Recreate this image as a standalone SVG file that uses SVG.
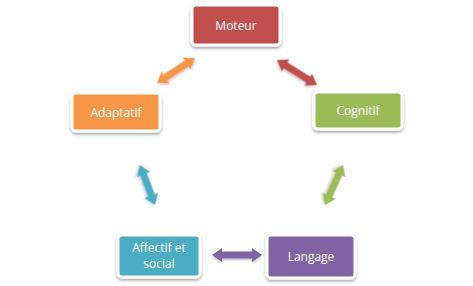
<svg xmlns="http://www.w3.org/2000/svg" width="473" height="286" viewBox="0 0 473 286">
<style>
.box{stroke:#ffffff;stroke-width:3;filter:url(#sh)}
.lbl{font-family:"Open Sans","Liberation Sans",sans-serif;font-size:12px;fill:#ffffff;text-anchor:middle}
.arr{filter:url(#ash)}
</style>
<defs>
<filter id="sh" x="-20%" y="-30%" width="140%" height="170%">
<feDropShadow dx="0" dy="2" stdDeviation="1.6" flood-color="#000" flood-opacity="0.35"/>
</filter>
<filter id="ash" x="-30%" y="-30%" width="160%" height="160%">
<feDropShadow dx="0" dy="1.5" stdDeviation="1.2" flood-color="#000" flood-opacity="0.25"/>
</filter>
</defs>
<rect width="473" height="286" fill="#ffffff"/>
<g id="connectors">
<polygon class="arr" fill="#f79646" transform="translate(176,70.5) rotate(-33.3)" points="-22.7,0 -12.7,-7 -12.7,-3.5 12.7,-3.5 12.7,-7 22.7,0 12.7,7 12.7,3.5 -12.7,3.5 -12.7,7"/>
<polygon class="arr" fill="#c0504d" transform="translate(297,72.5) rotate(32)" points="-23.5,0 -13.5,-7 -13.5,-3.5 13.5,-3.5 13.5,-7 23.5,0 13.5,7 13.5,3.5 -13.5,3.5 -13.5,7"/>
<polygon class="arr" fill="#4bacc6" transform="translate(147.5,185) rotate(69.4)" points="-21.3,0 -11.3,-7 -11.3,-3.5 11.3,-3.5 11.3,-7 21.3,0 11.3,7 11.3,3.5 -11.3,3.5 -11.3,7"/>
<polygon class="arr" fill="#9bbb59" transform="translate(334,185) rotate(114.2)" points="-22,0 -12,-7 -12,-3.5 12,-3.5 12,-7 22,0 12,7 12,3.5 -12,3.5 -12,7"/>
<polygon class="arr" fill="#8064a2" transform="translate(237,255)" points="-25,0 -15,-7 -15,-3.5 15,-3.5 15,-7 25,0 15,7 15,3.5 -15,3.5 -15,7"/>
</g>
<g id="moteur">
<rect class="box" x="192" y="5" width="88" height="40" rx="4" fill="#c0504d"/>
<text class="lbl" x="236" y="29.5">Moteur</text>
</g>
<g id="adaptatif">
<rect class="box" x="72" y="93" width="88" height="38" rx="4" fill="#f79646"/>
<text class="lbl" x="116" y="116.5">Adaptatif</text>
</g>
<g id="cognitif">
<rect class="box" x="314" y="92" width="88" height="37" rx="4" fill="#9bbb59"/>
<text class="lbl" x="358" y="115">Cognitif</text>
</g>
<g id="affectif">
<rect class="box" x="118" y="235" width="82" height="42" rx="4" fill="#4bacc6"/>
<text class="lbl" x="159" y="252">Affectif et</text>
<text class="lbl" x="159" y="268">social</text>
</g>
<g id="langage">
<rect class="box" x="267" y="235" width="88" height="43" rx="4" fill="#8064a2"/>
<text class="lbl" x="311" y="260.5">Langage</text>
</g>
</svg>
